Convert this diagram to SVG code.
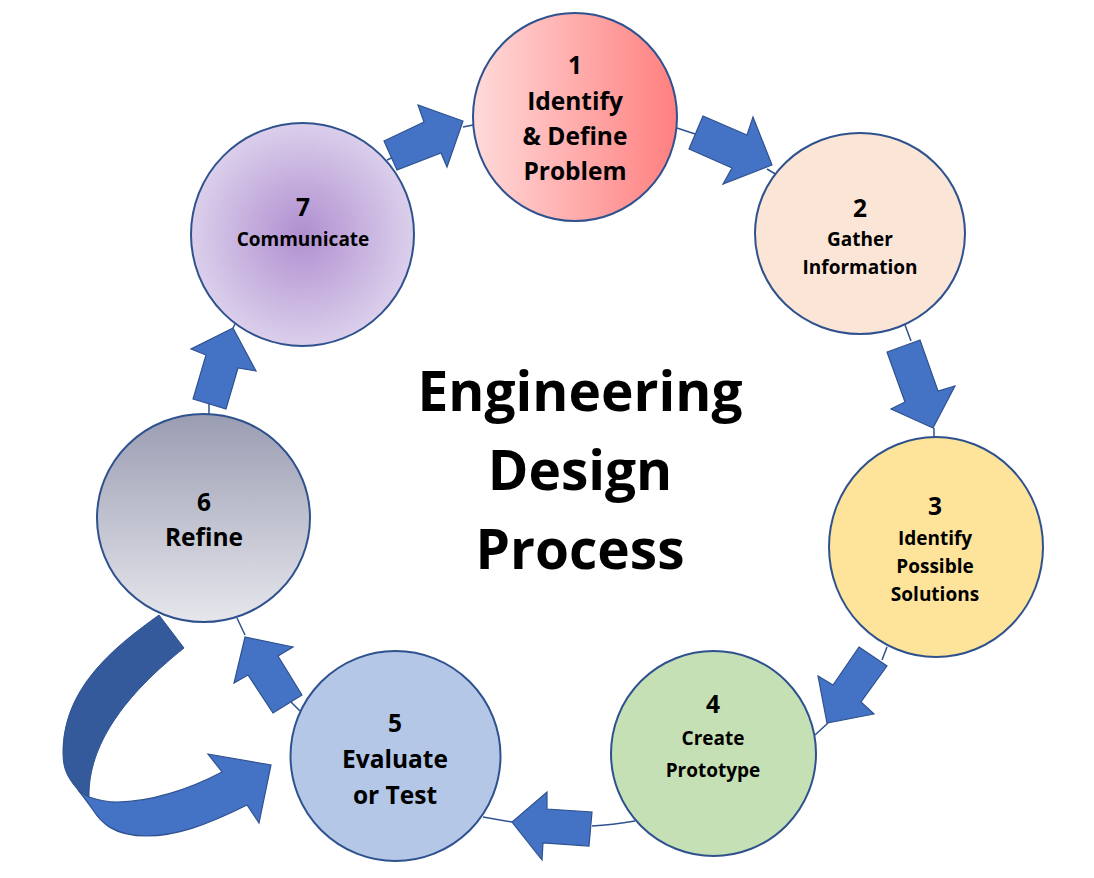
<svg xmlns="http://www.w3.org/2000/svg" width="1094" height="878" viewBox="0 0 1094 878">
<style>
text{font-family:"Open Sans","Noto Sans","Liberation Sans",sans-serif;font-weight:700;fill:#000;text-anchor:middle}
.n{stroke:#2f528f;stroke-width:2}
.a{fill:#4472c4;stroke:#2f528f;stroke-width:1.2}
.c{fill:none;stroke:#2f528f;stroke-width:1.5}
.b{font-size:24.500px}
.m{font-size:19px}
.t{font-size:55px}
</style>
<defs>
<linearGradient id="g1" x1="0" x2="1" y1="0" y2="0"><stop offset="0" stop-color="#ffdada"/><stop offset="1" stop-color="#ff7f7f"/></linearGradient>
<linearGradient id="g6" x1="0" x2="0" y1="0" y2="1"><stop offset="0" stop-color="#9a9db2"/><stop offset="1" stop-color="#e6e6ec"/></linearGradient>
<radialGradient id="g7"><stop offset="0" stop-color="#b08fd0"/><stop offset="1" stop-color="#dbcfeb"/></radialGradient>
</defs>
<rect width="1094" height="878" fill="#fff"/>
<g id="connectors">
<path class="c" d="M387,160L396,156M463,127L473,125M677,128L695,134M767,169L777,175M905,325L911,341M934,428L934,437M887,647L882,660M828,723L815,735M635,821Q612,825 592,826M512,822L483,817M291,702L300,711M237,618L245,635M209,415L209,403M233,328L235,324"/>
<polygon class="a" points="384,141 397,170 441,153 447,167 463,121 418,105 424,122"/>
<polygon class="a" points="703,116 689,149 732,168 723,184 772,165 753,117 747,135"/>
<polygon class="a" points="920,340 887,352 905,402 891,409 933,428 955,386 938,391"/>
<polygon class="a" points="859,647 887,666 861,702 874,714 827,723 818,676 833,685"/>
<polygon class="a" points="592,812 589,846 543,843 542,860 512,822 547,792 547,809"/>
<polygon class="a" points="302,695 273,713 248,675 234,683 245,637 293,647 278,656"/>
<polygon class="a" points="193,399 226,409 238,368 256,371 233,328 191,349 206,355"/>
<path class="a" d="M78,790C84,797 88,803 93,810C100,821 112,836 147,836C175,836 205,826 247,805L259,823L271,765L208,754L222,772C190,789 150,802 117,802C107,802 98,800 89,797Z"/>
<path d="M159,615C110,650 63,690 63,753C63,770 68,778 78,790L89,797C88,745 125,695 184,648Z" fill="#345a9b" stroke="#2f528f" stroke-width="1"/>
</g>
<g id="node1"><ellipse class="n" cx="575" cy="117" rx="102" ry="104" fill="url(#g1)"/><text class="b" x="575" y="74">1</text><text class="b" x="575" y="110">Identify</text><text class="b" x="575" y="145">&amp; Define</text><text class="b" x="575" y="180">Problem</text></g>
<g id="node2"><ellipse class="n" cx="860" cy="233.500" rx="105" ry="100.500" fill="#fbe5d6"/><text class="b" x="860" y="217">2</text><text class="m" x="860" y="246">Gather</text><text class="m" x="860" y="274">Information</text></g>
<g id="node3"><ellipse class="n" cx="936" cy="547" rx="107" ry="110" fill="#fee39a"/><text class="b" x="935" y="515">3</text><text class="m" x="935" y="545">Identify</text><text class="m" x="935" y="573">Possible</text><text class="m" x="935" y="601">Solutions</text></g>
<g id="node4"><circle class="n" cx="713.500" cy="753.500" r="102.500" fill="#c5e0b4"/><text class="b" x="713" y="713">4</text><text class="m" x="713" y="745">Create</text><text class="m" x="713" y="777">Prototype</text></g>
<g id="node5"><circle class="n" cx="395.500" cy="756" r="105" fill="#b4c7e7"/><text class="b" x="395" y="732">5</text><text class="b" x="395" y="768">Evaluate</text><text class="b" x="395" y="804">or Test</text></g>
<g id="node6"><ellipse class="n" cx="203.500" cy="518" rx="106.500" ry="104" fill="url(#g6)"/><text class="b" x="204" y="511">6</text><text class="b" x="204" y="546">Refine</text></g>
<g id="node7"><circle class="n" cx="302.500" cy="234.500" r="111.500" fill="url(#g7)"/><text class="b" x="303" y="216">7</text><text class="m" x="303" y="246">Communicate</text></g>
<g id="title"><text class="t" x="580" y="411">Engineering</text><text class="t" x="580" y="490">Design</text><text class="t" x="580" y="569">Process</text></g>
</svg>
